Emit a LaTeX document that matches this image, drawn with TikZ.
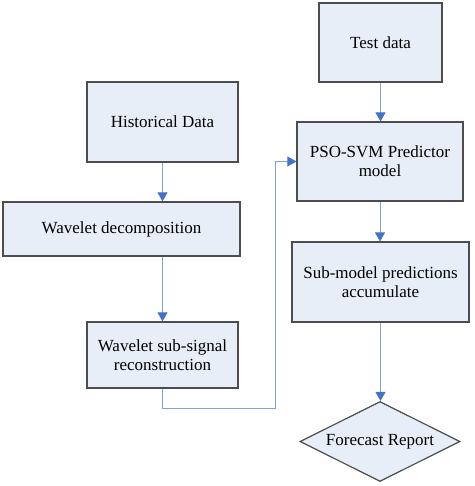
\documentclass[tikz,border=0pt]{standalone}
\usepackage{fontspec}
\setmainfont{Liberation Serif}
\usetikzlibrary{arrows.meta,positioning,shapes.geometric}
\definecolor{boxfill}{HTML}{E8EEF7}
\definecolor{boxline}{HTML}{4D4D4D}
\definecolor{linkline}{HTML}{7FA3D6}
\definecolor{linktip}{HTML}{4472C4}
\tikzset{
    %Define style for boxes
    kasse/.style={
           rectangle,
           draw=boxline, line width=1.2pt,
           fill=boxfill,
           align=center,
           font=\fontsize{17}{19}\selectfont,
           inner sep=0pt},
    % Define style for the final report
    rombe/.style={
           diamond,
           draw=boxline, line width=1.2pt,
           fill=boxfill,
           aspect=2,
           font=\fontsize{17}{19}\selectfont,
           inner sep=0pt},
    % Define arrow style
    pil/.style={
           -{Triangle[width=10pt,length=9pt,color=linktip]},
           draw=linkline,
           line width=0.9pt}
}

\begin{document}
\begin{tikzpicture}[x=1pt,y=1pt]
    \useasboundingbox (0,0) rectangle (474,-486);
    % left column
    \node[kasse, minimum width=151pt, minimum height=80pt] (history) at (162.5,-122) {Historical Data};
    \node[kasse, minimum width=237pt, minimum height=54pt] (decomp) at (121.5,-229) {Wavelet decomposition};
    \node[kasse, minimum width=151pt, minimum height=66pt] (recon) at (162.5,-355) {Wavelet sub-signal\\reconstruction};
    % right column
    \node[kasse, minimum width=123pt, minimum height=79pt] (testdata) at (380.5,-42.5) {Test data};
    \node[kasse, minimum width=166pt, minimum height=79pt] (predictor) at (380,-161.5) {PSO-SVM Predictor\\model};
    \node[kasse, minimum width=177pt, minimum height=80pt] (accum) at (380.5,-282) {Sub-model predictions\\accumulate};
    \node[rombe, minimum width=160pt, minimum height=80pt] (report) at (380,-441.5) {Forecast Report};
    \coordinate (knee) at (275,-408);
    % arrows
    \draw[pil] (history.south) -- (history.south |- decomp.north);
    \draw[pil] (history.south |- decomp.south) -- (recon.north);
    \draw[pil] (recon.south) |- (knee) |- (predictor.west);
    \draw[pil] (testdata.south) -- (testdata.south |- predictor.north);
    \draw[pil] (predictor.south) -- (predictor.south |- accum.north);
    \draw[pil] (accum.south) -- (accum.south |- report.north);
\end{tikzpicture}
\end{document}
